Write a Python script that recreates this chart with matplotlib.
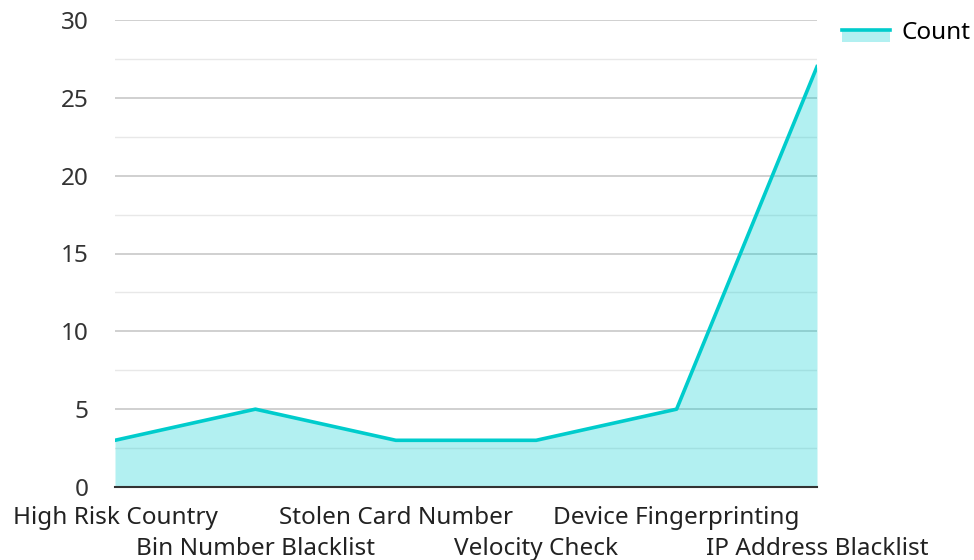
import matplotlib
matplotlib.use("Agg")
import matplotlib.pyplot as plt
from matplotlib.patches import Rectangle
from matplotlib.lines import Line2D
from matplotlib.ticker import MultipleLocator
from matplotlib.legend_handler import HandlerBase

categories = ["High Risk Country", "Bin Number Blacklist", "Stolen Card Number",
              "Velocity Check", "Device Fingerprinting", "IP Address Blacklist"]
counts = [3, 5, 3, 3, 5, 27]
series_name = "Count"

plt.rcParams['font.family'] = ['Noto Sans', 'DejaVu Sans']

fig = plt.figure(figsize=(9.74, 5.6), dpi=100)
ax = fig.add_axes([115/974, 1-487/560, (817-115)/974, (487-20)/560])

line_c = "#00CCCC"
fill_c = "#00CED1"
FS = 17.5
x = list(range(len(categories)))
ax.fill_between(x, counts, 0, color=fill_c, alpha=0.3, linewidth=0, zorder=3)
ax.plot(x, counts, color=line_c, linewidth=2.6, zorder=4)

ax.set_xlim(0, len(categories)-1)
ax.set_ylim(0, 30)
ax.yaxis.set_major_locator(MultipleLocator(5))
ax.yaxis.set_minor_locator(MultipleLocator(2.5))
ax.grid(axis='y', which='major', color='#C8C8C8', linewidth=1.2, zorder=1)
ax.grid(axis='y', which='minor', color='#E8E8E8', linewidth=1.0, zorder=1)
ax.set_axisbelow(True)
for s in ['top', 'right', 'left']:
    ax.spines[s].set_visible(False)
ax.spines['bottom'].set_color('#333333')
ax.spines['bottom'].set_linewidth(1.5)
ax.spines['bottom'].set_zorder(5)

even = [i for i in x if i % 2 == 0]
odd = [i for i in x if i % 2 == 1]
ax.set_xticks(even, [categories[i] for i in even])
ax.set_xticks(odd, [categories[i] for i in odd], minor=True)
for lab in ax.get_xticklabels(which='both'):
    lab.set_fontsize(FS)
    lab.set_color('#222222')
ax.tick_params(axis='x', which='major', length=0, pad=14)
ax.tick_params(axis='x', which='minor', length=0, pad=36)
ax.tick_params(axis='y', which='both', length=0, pad=19, labelsize=FS, labelcolor='#333333')


class AreaHandler(HandlerBase):
    def create_artists(self, legend, orig_handle, xdescent, ydescent, width, height, fontsize, trans):
        mid = -ydescent + height * 0.5
        rect = Rectangle((-xdescent, mid - height * 0.68), width, height * 0.68,
                         facecolor=fill_c, alpha=0.3, edgecolor='none', transform=trans)
        ln = Line2D([-xdescent, -xdescent + width], [mid, mid],
                    color=line_c, linewidth=2.6, transform=trans)
        return [rect, ln]


dummy = Line2D([], [])
fig.legend([dummy], [series_name], loc='upper left', bbox_to_anchor=(820/974, 1+1/560),
           frameon=False, fontsize=FS, handlelength=2.0, handleheight=0.7, handletextpad=0.45,
           handler_map={Line2D: AreaHandler()})

fig.savefig("out.png", dpi=100)
